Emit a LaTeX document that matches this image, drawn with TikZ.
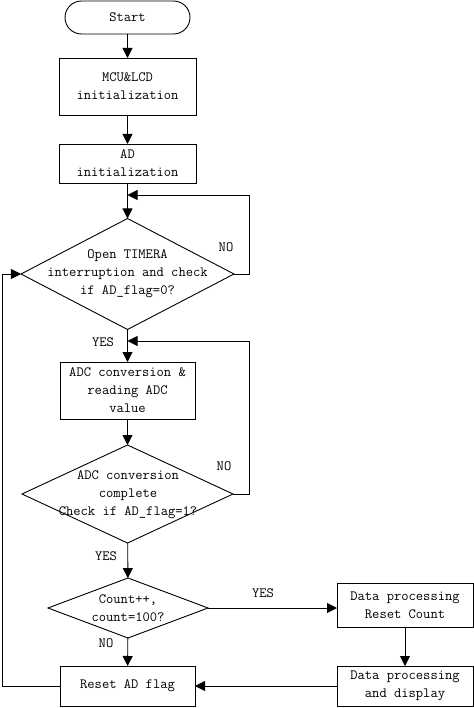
\documentclass[tikz,border=0pt]{standalone}
\usetikzlibrary{shapes.geometric,arrows.meta}
\begin{document}
\begin{tikzpicture}[x=1bp,y=-1bp,
  font=\ttfamily\fontsize{14.2}{18}\selectfont,
  every node/.style={inner sep=0pt, outer sep=0pt},
  box/.style={draw, line width=0.9bp, rectangle, align=center},
  term/.style={draw, line width=0.9bp, rectangle, rounded corners=16.5bp, align=center},
  dia/.style={draw, line width=0.9bp, diamond},
  txt/.style={align=center},
  lbl/.style={},
  arr/.style={line width=0.9bp, -{Triangle[length=10bp,width=10bp]}}
]
\useasboundingbox (0,0) rectangle (474,708);
\node[term, minimum width=125bp, minimum height=33bp] (start) at (127.5,17.5) {Start};
\node[box, minimum width=137bp, minimum height=57bp] (mcu) at (127.5,86.5) {MCU\&LCD\\initialization};
\node[box, minimum width=137bp, minimum height=39bp] (ad) at (127.5,163.5) {AD\\initialization};
\coordinate (j1) at (127.5,195);
\node[dia, minimum width=213bp, minimum height=111bp] (d1) at (127.5,274) {};
\node[txt] at (d1) {Open TIMERA\\interruption and check\\if AD\_flag=0?};
\coordinate (j2) at (127.5,341);
\node[box, minimum width=135bp, minimum height=57bp] (adc) at (127.5,390.5) {ADC conversion \&\\reading ADC\\value};
\node[dia, minimum width=211bp, minimum height=98bp] (d2) at (127.5,494) {};
\node[txt] at (128,495) {ADC conversion\\complete\\Check if AD\_flag=1?};
\node[dia, minimum width=160bp, minimum height=60bp] (d3) at (128,608) {};
\node[txt] at (d3) {Count++,\\count=100?};
\node[box, minimum width=136bp, minimum height=44bp] (dp1) at (405,605) {Data processing\\Reset Count};
\node[box, minimum width=136bp, minimum height=40bp] (dp2) at (405,686) {Data processing\\and display};
\node[box, minimum width=135bp, minimum height=40bp] (reset) at (127.5,686) {Reset AD flag};

\draw[arr] (start) -- (mcu);
\draw[arr] (mcu) -- (ad);
\draw[arr] (ad) -- (d1);
\draw[arr] (d1.east) -- ++(15,0) |- (j1);
\draw[arr] (d1) -- (adc);
\draw[arr] (d2.east) -- ++(16,0) |- (j2);
\draw[arr] (adc) -- (d2);
\draw[arr] (d2) -- (d3);
\draw[arr] (d3.east) -- (dp1.west |- d3.east);
\draw[arr] (dp1) -- (dp2);
\draw[arr] (dp2) -- (reset);
\draw[arr] (d3) -- (reset);
\draw[arr] (reset.west) -- ++(-58,0) |- (d1.west);

\node[lbl] (no1) at (226,247) {NO};
\node[lbl] (yes1) at (103,342) {YES};
\node[lbl] (no2) at (224,466) {NO};
\node[lbl] (yes2) at (106,556) {YES};
\node[lbl] (yes3) at (263,593) {YES};
\node[lbl] (no3) at (106,643) {NO};
\end{tikzpicture}
\end{document}
